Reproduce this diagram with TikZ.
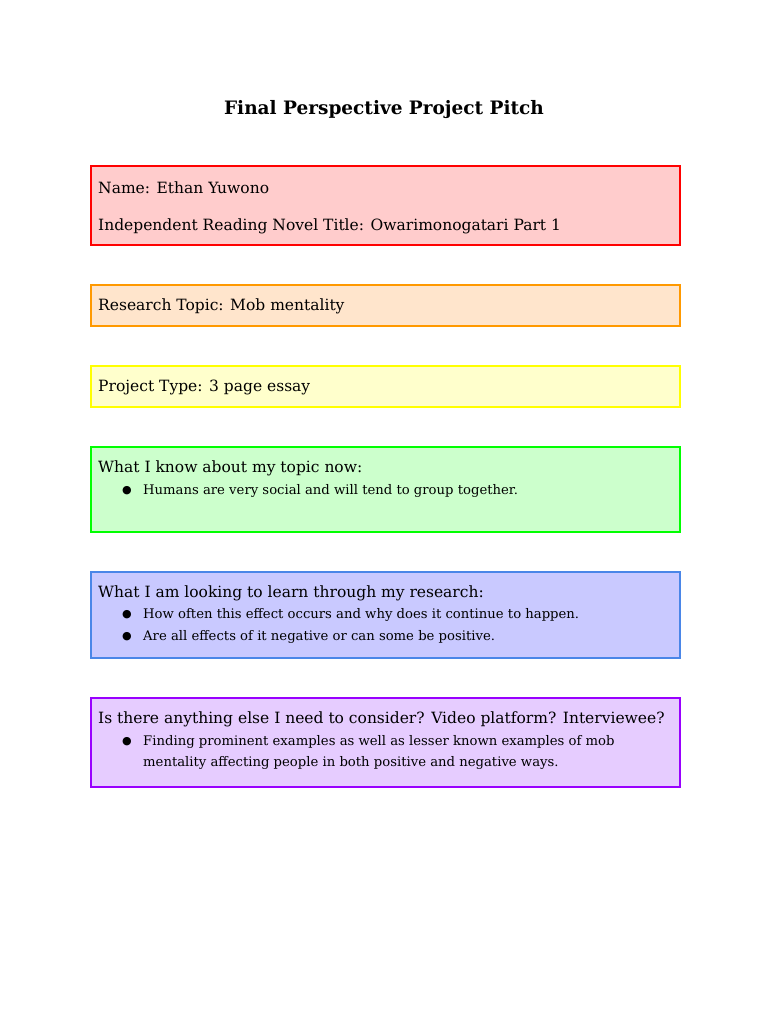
\documentclass[tikz,border=0pt]{standalone}
\usepackage{fontspec}
\setmainfont{DejaVu Serif}
\newfontfamily\symf{DejaVu Sans}
\begin{document}
\begin{tikzpicture}[x=1pt,y=-1pt,
  box/.style={line width=2.5pt},
  txt/.style={anchor=west,inner sep=0pt,font=\fontsize{15.5}{18}\selectfont},
  btxt/.style={anchor=west,inner sep=0pt,font=\fontsize{13.2}{15}\selectfont},
  bul/.style={anchor=center,inner sep=0pt,font=\symf\fontsize{11}{12}\selectfont}]
\useasboundingbox[fill=white] (0,0) rectangle (768,1024);
\definecolor{rfill}{HTML}{FFCCCC}\definecolor{rline}{HTML}{FF0000}
\definecolor{ofill}{HTML}{FFE5CC}\definecolor{oline}{HTML}{FF9900}
\definecolor{yfill}{HTML}{FFFFCC}\definecolor{yline}{HTML}{FFFF00}
\definecolor{gfill}{HTML}{CCFFCC}\definecolor{gline}{HTML}{00FF00}
\definecolor{bfill}{HTML}{C9C9FF}\definecolor{bline}{HTML}{4A86E8}
\definecolor{pfill}{HTML}{E6CCFF}\definecolor{pline}{HTML}{9900FF}
\node[font=\bfseries\fontsize{18.5}{22}\selectfont] (title) at (384,110) {Final Perspective Project Pitch};
\draw[box,draw=rline,fill=rfill] (91,166) rectangle (680,245);
\node[txt] (n1) at (98,188) {Name: Ethan Yuwono};
\node[txt] (n2) at (98,226) {Independent Reading Novel Title: Owarimonogatari Part 1};
\draw[box,draw=oline,fill=ofill] (91,285) rectangle (680,326);
\node[txt] (rt) at (98,306) {Research Topic: Mob mentality};
\draw[box,draw=yline,fill=yfill] (91,366) rectangle (680,407);
\node[txt] (pt) at (98,387) {Project Type: 3 page essay};
\draw[box,draw=gline,fill=gfill] (91,447) rectangle (680,532);
\node[txt] (g1) at (98,468) {What I know about my topic now:};
\node[bul] (gb1) at (127,491) {●};
\node[btxt] (gt1) at (143,491) {Humans are very social and will tend to group together.};
\draw[box,draw=bline,fill=bfill] (91,572) rectangle (680,658);
\node[txt] (b1) at (98,593) {What I am looking to learn through my research:};
\node[bul] (bb1) at (127,615) {●};
\node[btxt] (bt1) at (143,615) {How often this effect occurs and why does it continue to happen.};
\node[bul] (bb2) at (127,637) {●};
\node[btxt] (bt2) at (143,637) {Are all effects of it negative or can some be positive.};
\draw[box,draw=pline,fill=pfill] (91,698) rectangle (680,787);
\node[txt] (p1) at (98,719) {Is there anything else I need to consider? Video platform? Interviewee?};
\node[bul] (pb1) at (127,742) {●};
\node[btxt] (pt1) at (143,742) {Finding prominent examples as well as lesser known examples of mob};
\node[btxt] (pt2) at (143,763) {mentality affecting people in both positive and negative ways.};
\end{tikzpicture}
\end{document}
